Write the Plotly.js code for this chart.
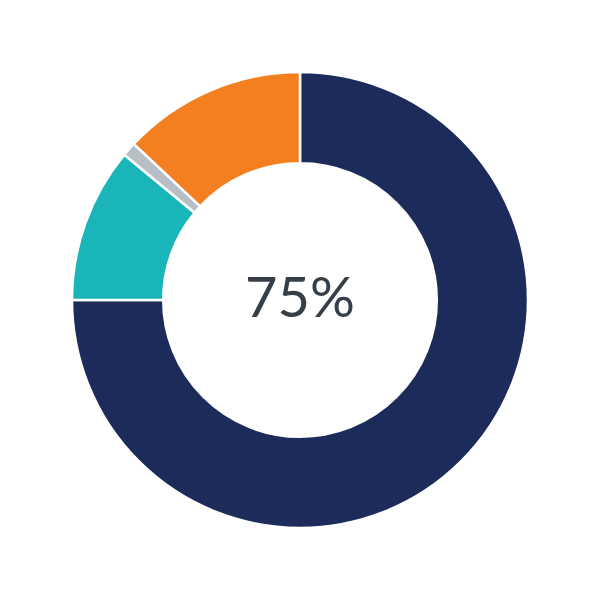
<!DOCTYPE html>
<html>
<head>
<meta charset="utf-8">
<script src="https://cdn.plot.ly/plotly-3.0.1.min.js"></script>
<style>html,body{margin:0;padding:0;background:#fff;}#chart{width:600px;height:600px;}</style>
</head>
<body>
<div id="chart"></div>
<script>
const labels = ["Navy", "Teal", "Gray", "Orange"];
const values = [75, 11, 1, 13];
const colors = ["#1c2b5a", "#1ab5b8", "#b8bec6", "#f47f20"];
const centerLabel = "75%";

Plotly.newPlot("chart", [{
  type: "pie",
  labels: labels,
  values: values,
  hole: 0.6,
  sort: false,
  direction: "clockwise",
  rotation: 0,
  textinfo: "none",
  hoverinfo: "none",
  marker: {colors: colors, line: {color: "#ffffff", width: 2.5}}
}], {
  width: 600, height: 600,
  margin: {l: 72, r: 72, t: 72, b: 72},
  showlegend: false,
  paper_bgcolor: "#ffffff",
  annotations: [{
    text: centerLabel, x: 0.5, y: 0.5, xref: "paper", yref: "paper",
    yshift: 5,
    showarrow: false, font: {family: "Lato", size: 56, color: "#363f48"}
  }]
}, {displayModeBar: false, staticPlot: true});
</script>
</body>
</html>
